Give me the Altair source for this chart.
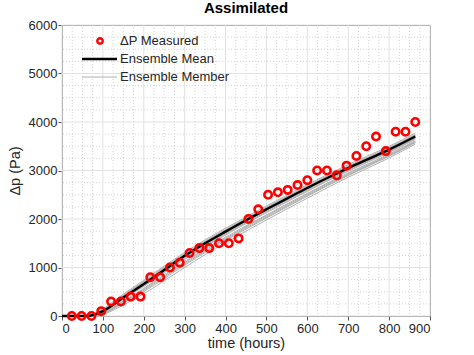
import altair as alt
import pandas as pd

# Measured pressure drop (hours, Pa)
meas_time = [24, 48, 72, 96, 120, 144, 168, 192, 216, 240, 264, 288, 312, 336, 360, 384, 408, 432,
             456, 480, 504, 528, 552, 576, 600, 624, 648, 672, 696, 720, 744, 768, 792, 816, 840, 864]
meas_dp = [0, 0, 0, 100, 300, 300, 400, 400, 800, 800, 1000, 1100, 1300, 1400, 1400, 1500, 1500, 1600,
           2000, 2200, 2500, 2550, 2600, 2700, 2800, 3000, 3000, 2900, 3100, 3300, 3500, 3700, 3400, 3800, 3800, 4000]

# Ensemble curves
ens_time = [0, 60, 80, 100, 150, 200, 250, 300, 350, 400, 450, 500, 550, 600, 650, 700, 750, 800, 864]
ens_mean = [0, 0, 30, 100, 380, 660, 950, 1240, 1500, 1740, 1975, 2200, 2420, 2640, 2850, 3050, 3240, 3430, 3700]
members = [
    [0, 5, 55, 150, 450, 740, 1030, 1310, 1570, 1810, 2040, 2270, 2490, 2710, 2920, 3120, 3310, 3500, 3770],
    [0, 0, 40, 120, 410, 700, 990, 1270, 1530, 1770, 2000, 2230, 2450, 2670, 2880, 3080, 3270, 3460, 3730],
    [0, 0, 35, 110, 395, 680, 970, 1255, 1515, 1755, 1990, 2215, 2435, 2655, 2865, 3065, 3255, 3445, 3715],
    [0, 0, 25, 90, 360, 640, 925, 1210, 1470, 1710, 1945, 2170, 2390, 2610, 2820, 3020, 3210, 3400, 3670],
    [0, 0, 20, 80, 340, 610, 890, 1170, 1430, 1670, 1905, 2130, 2350, 2570, 2785, 2985, 3180, 3370, 3645],
    [0, 0, 15, 70, 310, 570, 850, 1125, 1385, 1625, 1860, 2085, 2310, 2530, 2745, 2950, 3145, 3340, 3615],
    [0, 0, 10, 55, 280, 530, 800, 1075, 1335, 1580, 1815, 2040, 2265, 2490, 2705, 2910, 3110, 3305, 3585],
    [0, 0, 5, 35, 225, 460, 725, 1000, 1265, 1510, 1750, 1980, 2205, 2430, 2650, 2860, 3060, 3260, 3545],
    [0, 0, 30, 105, 385, 665, 955, 1245, 1505, 1745, 1980, 2205, 2425, 2645, 2855, 3055, 3245, 3435, 3705],
    [0, 0, 45, 130, 425, 715, 1005, 1285, 1545, 1785, 2015, 2245, 2465, 2685, 2895, 3095, 3285, 3475, 3745],
    [0, 0, 22, 85, 350, 625, 905, 1190, 1450, 1690, 1925, 2150, 2370, 2590, 2800, 3000, 3195, 3385, 3655],
    [0, 0, 12, 60, 295, 550, 825, 1100, 1360, 1600, 1840, 2065, 2290, 2510, 2725, 2930, 3125, 3320, 3600],
    [0, 0, 8, 48, 260, 505, 772, 1048, 1310, 1555, 1792, 2020, 2245, 2470, 2688, 2895, 3095, 3292, 3572],
    [0, 0, 38, 115, 402, 690, 980, 1262, 1522, 1762, 1995, 2222, 2442, 2662, 2872, 3072, 3262, 3452, 3722],
]

x_major = list(range(0, 901, 100))
y_major = list(range(0, 6001, 1000))
x_minor = [v for v in range(0, 901, 25) if v % 100 != 0]
y_minor = [v for v in range(0, 6001, 250) if v % 1000 != 0]

legend_labels = ["ΔP Measured", "Ensemble Mean", "Ensemble Member"]

FONT = "Liberation Sans"
TXT = "#262626"

meas_df = pd.DataFrame({"t": meas_time, "dp": meas_dp})
mean_df = pd.DataFrame({"t": ens_time, "dp": ens_mean})
mem_df = pd.DataFrame([
    {"m": i, "t": t, "dp": v}
    for i, mem in enumerate(members) for t, v in zip(ens_time, mem)
])

xs = alt.Scale(domain=[0, 900], nice=False)
ys = alt.Scale(domain=[0, 6000], nice=False)

xaxis = alt.Axis(values=x_major, format="d", title="time (hours)", grid=False, domain=False,
                 tickSize=4, tickColor="#555", labelFontSize=13, titleFontSize=14.5,
                 labelColor=TXT, titleColor=TXT, labelFont=FONT, titleFont=FONT,
                 titleFontWeight="normal", titlePadding=1, labelPadding=2)
yaxis = alt.Axis(values=y_major, format="d", title="Δp (Pa)", grid=False, domain=False,
                 tickSize=4, tickColor="#555", labelFontSize=13, titleFontSize=14.5,
                 labelColor=TXT, titleColor=TXT, labelFont=FONT, titleFont=FONT,
                 titleFontWeight="normal", titlePadding=6, labelPadding=1)

X = alt.X("t:Q", scale=xs, axis=xaxis)
Y = alt.Y("dp:Q", scale=ys, axis=yaxis)

minor_x = alt.Chart(pd.DataFrame({"t": x_minor})).mark_rule(
    color="#d4d4d4", strokeDash=[1, 2], strokeWidth=1).encode(x=X)
minor_y = alt.Chart(pd.DataFrame({"dp": y_minor})).mark_rule(
    color="#d4d4d4", strokeDash=[1, 2], strokeWidth=1).encode(y=Y)
major_x = alt.Chart(pd.DataFrame({"t": x_major})).mark_rule(
    color="#e2e2e2", strokeWidth=1).encode(x=X)
major_y = alt.Chart(pd.DataFrame({"dp": y_major})).mark_rule(
    color="#e2e2e2", strokeWidth=1).encode(y=Y)

mem_lines = alt.Chart(mem_df).mark_line(color="#b0b0b0", strokeWidth=1, interpolate="monotone").encode(
    x=X, y=Y, detail="m:N",
)
mean_line = alt.Chart(mean_df).mark_line(color="black", strokeWidth=2.4, interpolate="monotone").encode(
    x=X, y=Y,
)
pts = alt.Chart(meas_df).mark_point(shape="circle", color="#ff0000", filled=False, opacity=1,
                                     size=55, strokeWidth=2.6).encode(x=X, y=Y)

# Manual legend (top-left inside the plot)
leg_df = pd.DataFrame({"label": legend_labels})
leg_pt = alt.Chart(leg_df).transform_filter(alt.datum.label == legend_labels[0]).mark_point(
    shape="circle", color="#ff0000", filled=False, opacity=1, size=30, strokeWidth=2.4
).encode(x=alt.value(38), y=alt.value(16))
leg_mean = alt.Chart(leg_df).transform_filter(alt.datum.label == legend_labels[1]).mark_rule(
    color="black", strokeWidth=2.5
).encode(x=alt.value(20), x2=alt.value(55), y=alt.value(34))
leg_mem = alt.Chart(leg_df).transform_filter(alt.datum.label == legend_labels[2]).mark_rule(
    color="#b0b0b0", strokeWidth=1
).encode(x=alt.value(20), x2=alt.value(55), y=alt.value(52))

leg_texts = [
    alt.Chart(leg_df).transform_filter(alt.datum.label == lab).mark_text(
        align="left", baseline="middle", fontSize=13, font=FONT, color=TXT
    ).encode(x=alt.value(58), y=alt.value(yy), text="label:N")
    for lab, yy in zip(legend_labels, [16, 34, 52])
]

chart = alt.layer(
    minor_x, minor_y, major_x, major_y, mem_lines, mean_line, pts,
    leg_pt, leg_mean, leg_mem, *leg_texts
).properties(
    width=368, height=291,
    title=alt.TitleParams("Assimilated", fontSize=15, font=FONT, fontWeight="bold", color="black", offset=3),
    autosize=alt.AutoSizeParams(type="none"),
    padding={"left": 62, "top": 25, "right": 44, "bottom": 39},
).configure_view(stroke="#8c8c8c", strokeWidth=1)

chart.save("out.html", embed_options={"renderer": "svg", "actions": False})
